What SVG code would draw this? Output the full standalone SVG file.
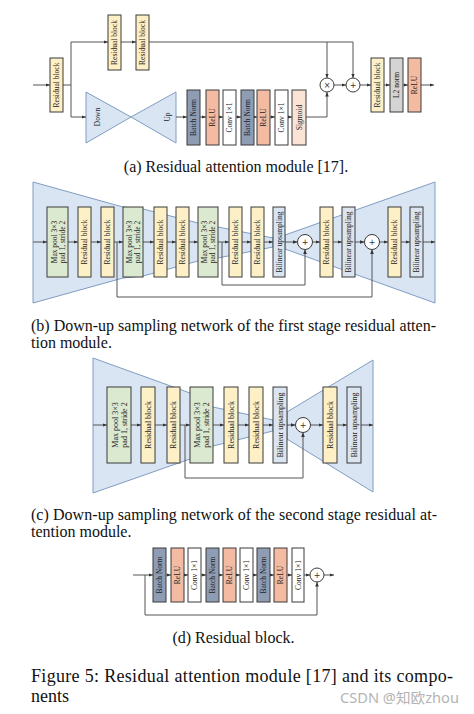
<svg xmlns="http://www.w3.org/2000/svg" width="474" height="714" viewBox="0 0 474 714">
<defs>
<marker id="ah" viewBox="0 0 10 10" refX="10" refY="5" markerWidth="4.5" markerHeight="4.5" markerUnits="userSpaceOnUse" orient="auto"><path d="M0,1 L10,5 L0,9 z" fill="#333"/></marker>
<style>
.rb{fill:#fdf0c6;stroke:#3a3a3a;stroke-width:1}
.bn{fill:#8f9db4;stroke:#3a3a3a;stroke-width:1}
.re{fill:#f3bba1;stroke:#3a3a3a;stroke-width:1}
.cv{fill:#ffffff;stroke:#3a3a3a;stroke-width:1}
.sg{fill:#fbe3d6;stroke:#3a3a3a;stroke-width:1}
.l2{fill:#d4d4d4;stroke:#3a3a3a;stroke-width:1}
.mp{fill:#dce9d1;stroke:#3a3a3a;stroke-width:1}
.bl{fill:#dbe5f1;stroke:#3a3a3a;stroke-width:1}
.fun{fill:#d9e5f2;stroke:#7f9dc3;stroke-width:1}
.ci{fill:#ffffff;stroke:#3a3a3a;stroke-width:1}
.lbl{font-family:"Liberation Serif","Times New Roman",serif;font-size:7.5px;fill:#222;text-anchor:middle;dominant-baseline:central}
.lbc{font-family:"Liberation Serif","Times New Roman",serif;font-size:8px;fill:#222;text-anchor:middle;dominant-baseline:central}
.sym{font-family:"DejaVu Sans",sans-serif;font-size:8px;fill:#333;text-anchor:middle;dominant-baseline:central}
.cap{font-family:"Liberation Serif","Times New Roman",serif;font-size:16px;fill:#111}
.fig{font-family:"Liberation Serif","Times New Roman",serif;font-size:18px;fill:#111}
.cn{fill:none;stroke:#555;stroke-width:1}
.ar{marker-end:url(#ah)}
</style>
</defs>
<rect width="474" height="714" fill="#ffffff"/>

<!-- ============ (a) ============ -->
<g id="a-down"><polygon class="fun" points="86,92 131,117 86,143"/><text class="lbl" transform="translate(97,117) rotate(-90)">Down</text></g>
<g id="a-up"><polygon class="fun" points="131,117 176,92 176,143"/><text class="lbl" transform="translate(167,117) rotate(-90)">Up</text></g>

<g id="a-connectors">
<line class="cn ar" x1="33" y1="85" x2="50" y2="85"/>
<polyline class="cn" points="63,85 71,85"/>
<line class="cn" x1="71" y1="42" x2="71" y2="117"/>
<line class="cn ar" x1="71" y1="42" x2="108" y2="42"/>
<line class="cn ar" x1="121" y1="42" x2="136" y2="42"/>
<polyline class="cn ar" points="149,42 353,42 353,78"/>
<line class="cn ar" x1="327" y1="42" x2="327" y2="78"/>
<line class="cn ar" x1="71" y1="117" x2="86" y2="117"/>
<line class="cn ar" x1="176" y1="117" x2="187" y2="117"/>
<line class="cn ar" x1="200" y1="117" x2="206" y2="117"/>
<line class="cn ar" x1="219" y1="117" x2="223" y2="117"/>
<line class="cn ar" x1="236" y1="117" x2="241" y2="117"/>
<line class="cn ar" x1="254" y1="117" x2="257" y2="117"/>
<line class="cn ar" x1="270" y1="117" x2="275" y2="117"/>
<line class="cn ar" x1="288" y1="117" x2="292" y2="117"/>
<polyline class="cn ar" points="306,117 327,117 327,92"/>
<line class="cn ar" x1="334" y1="85" x2="346" y2="85"/>
<line class="cn ar" x1="360" y1="85" x2="371" y2="85"/>
<line class="cn ar" x1="384" y1="85" x2="390" y2="85"/>
<line class="cn ar" x1="403" y1="85" x2="408" y2="85"/>
<line class="cn ar" x1="421" y1="85" x2="434" y2="85"/>
</g>

<g id="a-rb0"><rect class="rb" x="50" y="58" width="13" height="54"/><text class="lbl" transform="translate(56.5,85) rotate(-90)">Residual block</text></g>
<g id="a-rb1"><rect class="rb" x="108" y="15" width="13" height="55"/><text class="lbl" transform="translate(114.5,42.5) rotate(-90)">Residual block</text></g>
<g id="a-rb2"><rect class="rb" x="136" y="15" width="13" height="55"/><text class="lbl" transform="translate(142.5,42.5) rotate(-90)">Residual block</text></g>
<g id="a-bn1"><rect class="bn" x="187" y="90" width="13" height="55"/><text class="lbl" transform="translate(193.5,117.5) rotate(-90)">Batch Norm</text></g>
<g id="a-relu1"><rect class="re" x="206" y="90" width="13" height="55"/><text class="lbl" transform="translate(212.5,117.5) rotate(-90)">ReLU</text></g>
<g id="a-conv1"><rect class="cv" x="223" y="90" width="13" height="55"/><text class="lbl" transform="translate(229.5,117.5) rotate(-90)">Conv 1×1</text></g>
<g id="a-bn2"><rect class="bn" x="241" y="90" width="13" height="55"/><text class="lbl" transform="translate(247.5,117.5) rotate(-90)">Batch Norm</text></g>
<g id="a-relu2"><rect class="re" x="257" y="90" width="13" height="55"/><text class="lbl" transform="translate(263.5,117.5) rotate(-90)">ReLU</text></g>
<g id="a-conv2"><rect class="cv" x="275" y="90" width="13" height="55"/><text class="lbl" transform="translate(281.5,117.5) rotate(-90)">Conv 1×1</text></g>
<g id="a-sig"><rect class="sg" x="292" y="90" width="14" height="55"/><text class="lbl" transform="translate(299,117.5) rotate(-90)">Sigmoid</text></g>
<g id="a-mul"><circle class="ci" cx="327" cy="85" r="7"/><text class="sym" x="327" y="85">×</text></g>
<g id="a-add"><circle class="ci" cx="353" cy="85" r="7"/><text class="sym" x="353" y="85">+</text></g>
<g id="a-rb3"><rect class="rb" x="371" y="58" width="13" height="54"/><text class="lbl" transform="translate(377.5,85) rotate(-90)">Residual block</text></g>
<g id="a-l2"><rect class="l2" x="390" y="58" width="13" height="54"/><text class="lbl" transform="translate(396.5,85) rotate(-90)">L2 norm</text></g>
<g id="a-relu3"><rect class="re" x="408" y="58" width="13" height="54"/><text class="lbl" transform="translate(414.5,85) rotate(-90)">ReLU</text></g>

<text class="cap" x="236" y="172" text-anchor="middle">(a) Residual attention module [17].</text>

<!-- ============ (b) ============ -->
<g id="b-funnel-down"><polygon class="fun" points="33,182 123,207 143,209 198,223 218,227 273,238 273,247 218,258 198,261 143,276 123,278 33,303"/></g>
<g id="b-funnel-up"><polygon class="fun" points="285,235 435,182 435,303 285,249"/></g>

<g id="b-connectors">
<line class="cn ar" x1="33" y1="242" x2="47" y2="242"/>
<line class="cn ar" x1="68" y1="242" x2="78" y2="242"/>
<line class="cn ar" x1="91" y1="242" x2="101" y2="242"/>
<line class="cn ar" x1="114" y1="242" x2="123" y2="242"/>
<line class="cn ar" x1="143" y1="242" x2="154" y2="242"/>
<line class="cn ar" x1="167" y1="242" x2="176" y2="242"/>
<line class="cn ar" x1="189" y1="242" x2="198" y2="242"/>
<line class="cn ar" x1="218" y1="242" x2="229" y2="242"/>
<line class="cn ar" x1="242" y1="242" x2="251" y2="242"/>
<line class="cn ar" x1="264" y1="242" x2="273" y2="242"/>
<line class="cn ar" x1="285" y1="242" x2="297.5" y2="242"/>
<line class="cn ar" x1="312.5" y1="242" x2="320" y2="242"/>
<line class="cn ar" x1="333" y1="242" x2="342" y2="242"/>
<line class="cn ar" x1="355" y1="242" x2="364.5" y2="242"/>
<line class="cn ar" x1="379.5" y1="242" x2="388" y2="242"/>
<line class="cn ar" x1="401" y1="242" x2="410" y2="242"/>
<line class="cn ar" x1="423" y1="242" x2="435" y2="242"/>
<polyline class="cn ar" points="117,242 117,297 372,297 372,249.5"/>
<polyline class="cn ar" points="222,242 222,285 305,285 305,249.5"/>
</g>

<g id="b-mp1"><rect class="mp" x="47" y="207" width="21" height="70"/><text class="lbl" transform="translate(57.5,242) rotate(-90)"><tspan x="0" y="-4">Max pool 3×3</tspan><tspan x="0" y="4">pad 1, stride 2</tspan></text></g>
<g id="b-rb1"><rect class="rb" x="78" y="207" width="13" height="70"/><text class="lbl" transform="translate(84.5,242) rotate(-90)">Residual block</text></g>
<g id="b-rb2"><rect class="rb" x="101" y="207" width="13" height="70"/><text class="lbl" transform="translate(107.5,242) rotate(-90)">Residual block</text></g>
<g id="b-mp2"><rect class="mp" x="123" y="207" width="20" height="70"/><text class="lbl" transform="translate(133,242) rotate(-90)"><tspan x="0" y="-4">Max pool 3×3</tspan><tspan x="0" y="4">pad 1, stride 2</tspan></text></g>
<g id="b-rb3"><rect class="rb" x="154" y="207" width="13" height="70"/><text class="lbl" transform="translate(160.5,242) rotate(-90)">Residual block</text></g>
<g id="b-rb4"><rect class="rb" x="176" y="207" width="13" height="70"/><text class="lbl" transform="translate(182.5,242) rotate(-90)">Residual block</text></g>
<g id="b-mp3"><rect class="mp" x="198" y="207" width="20" height="70"/><text class="lbl" transform="translate(208,242) rotate(-90)"><tspan x="0" y="-4">Max pool 3×3</tspan><tspan x="0" y="4">pad 1, stride 2</tspan></text></g>
<g id="b-rb5"><rect class="rb" x="229" y="207" width="13" height="70"/><text class="lbl" transform="translate(235.5,242) rotate(-90)">Residual block</text></g>
<g id="b-rb6"><rect class="rb" x="251" y="207" width="13" height="70"/><text class="lbl" transform="translate(257.5,242) rotate(-90)">Residual block</text></g>
<g id="b-bil1"><rect class="bl" x="273" y="207" width="12" height="70"/><text class="lbl" transform="translate(279,242) rotate(-90)">Bilinear upsampling</text></g>
<g id="b-add1"><circle class="ci" cx="305" cy="242" r="7.5"/><text class="sym" x="305" y="242">+</text></g>
<g id="b-rb7"><rect class="rb" x="320" y="207" width="13" height="70"/><text class="lbl" transform="translate(326.5,242) rotate(-90)">Residual block</text></g>
<g id="b-bil2"><rect class="bl" x="342" y="207" width="13" height="70"/><text class="lbl" transform="translate(348.5,242) rotate(-90)">Bilinear upsampling</text></g>
<g id="b-add2"><circle class="ci" cx="372" cy="242" r="7.5"/><text class="sym" x="372" y="242">+</text></g>
<g id="b-rb8"><rect class="rb" x="388" y="207" width="13" height="70"/><text class="lbl" transform="translate(394.5,242) rotate(-90)">Residual block</text></g>
<g id="b-bil3"><rect class="bl" x="410" y="207" width="13" height="70"/><text class="lbl" transform="translate(416.5,242) rotate(-90)">Bilinear upsampling</text></g>

<text class="cap" x="31" y="331" textLength="405" lengthAdjust="spacing">(b) Down-up sampling network of the first stage residual atten-</text>
<text class="cap" x="31" y="348">tion module.</text>

<!-- ============ (c) ============ -->
<g id="c-funnel-down"><polygon class="fun" points="93,358 190,393 213,407 273,420 273,431 213,446 190,459 93,493"/></g>
<g id="c-funnel-up"><polygon class="fun" points="287,412 373,360 373,492 287,439"/></g>

<g id="c-connectors">
<line class="cn ar" x1="93" y1="425" x2="107" y2="425"/>
<line class="cn ar" x1="131" y1="425" x2="141" y2="425"/>
<line class="cn ar" x1="155" y1="425" x2="167" y2="425"/>
<line class="cn ar" x1="180" y1="425" x2="190" y2="425"/>
<line class="cn ar" x1="213" y1="425" x2="224" y2="425"/>
<line class="cn ar" x1="238" y1="425" x2="249" y2="425"/>
<line class="cn ar" x1="263" y1="425" x2="273" y2="425"/>
<line class="cn ar" x1="287" y1="425" x2="295.5" y2="425"/>
<line class="cn ar" x1="310.5" y1="425" x2="323" y2="425"/>
<line class="cn ar" x1="337" y1="425" x2="347" y2="425"/>
<line class="cn ar" x1="361" y1="425" x2="373" y2="425"/>
<polyline class="cn ar" points="185,425 185,478 303,478 303,432.5"/>
</g>

<g id="c-mp1"><rect class="mp" x="107" y="387" width="24" height="76"/><text class="lbc" transform="translate(119,425) rotate(-90)"><tspan x="0" y="-4.5">Max pool 3×3</tspan><tspan x="0" y="4.5">pad 1, stride 2</tspan></text></g>
<g id="c-rb1"><rect class="rb" x="141" y="387" width="14" height="76"/><text class="lbc" transform="translate(148,425) rotate(-90)">Residual block</text></g>
<g id="c-rb2"><rect class="rb" x="167" y="387" width="13" height="76"/><text class="lbc" transform="translate(173.5,425) rotate(-90)">Residual block</text></g>
<g id="c-mp2"><rect class="mp" x="190" y="387" width="23" height="76"/><text class="lbc" transform="translate(201.5,425) rotate(-90)"><tspan x="0" y="-4.5">Max pool 3×3</tspan><tspan x="0" y="4.5">pad 1, stride 2</tspan></text></g>
<g id="c-rb3"><rect class="rb" x="224" y="387" width="14" height="76"/><text class="lbc" transform="translate(231,425) rotate(-90)">Residual block</text></g>
<g id="c-rb4"><rect class="rb" x="249" y="387" width="14" height="76"/><text class="lbc" transform="translate(256,425) rotate(-90)">Residual block</text></g>
<g id="c-bil1"><rect class="bl" x="273" y="387" width="14" height="76"/><text class="lbc" transform="translate(280,425) rotate(-90)">Bilinear upsampling</text></g>
<g id="c-add"><circle class="ci" cx="303" cy="425" r="7.5"/><text class="sym" x="303" y="425">+</text></g>
<g id="c-rb5"><rect class="rb" x="323" y="387" width="14" height="76"/><text class="lbc" transform="translate(330,425) rotate(-90)">Residual block</text></g>
<g id="c-bil2"><rect class="bl" x="347" y="387" width="14" height="76"/><text class="lbc" transform="translate(354,425) rotate(-90)">Bilinear upsampling</text></g>

<text class="cap" x="31" y="520" textLength="406" lengthAdjust="spacing">(c) Down-up sampling network of the second stage residual at-</text>
<text class="cap" x="31" y="537">tention module.</text>

<!-- ============ (d) ============ -->
<g id="d-connectors">
<line class="cn ar" x1="133" y1="575" x2="153" y2="575"/>
<line class="cn ar" x1="166" y1="575" x2="171" y2="575"/>
<line class="cn ar" x1="184" y1="575" x2="188" y2="575"/>
<line class="cn ar" x1="201" y1="575" x2="206" y2="575"/>
<line class="cn ar" x1="219" y1="575" x2="223" y2="575"/>
<line class="cn ar" x1="236" y1="575" x2="240" y2="575"/>
<line class="cn ar" x1="253" y1="575" x2="257" y2="575"/>
<line class="cn ar" x1="270" y1="575" x2="274" y2="575"/>
<line class="cn ar" x1="287" y1="575" x2="292" y2="575"/>
<line class="cn ar" x1="304" y1="575" x2="310" y2="575"/>
<line class="cn ar" x1="324" y1="575" x2="334" y2="575"/>
<polyline class="cn ar" points="145,575 145,615 317,615 317,582"/>
</g>

<g id="d-bn1"><rect class="bn" x="153" y="548" width="13" height="54"/><text class="lbl" transform="translate(159.5,575) rotate(-90)">Batch Norm</text></g>
<g id="d-relu1"><rect class="re" x="171" y="548" width="13" height="54"/><text class="lbl" transform="translate(177.5,575) rotate(-90)">ReLU</text></g>
<g id="d-conv1"><rect class="cv" x="188" y="548" width="13" height="54"/><text class="lbl" transform="translate(194.5,575) rotate(-90)">Conv 1×1</text></g>
<g id="d-bn2"><rect class="bn" x="206" y="548" width="13" height="54"/><text class="lbl" transform="translate(212.5,575) rotate(-90)">Batch Norm</text></g>
<g id="d-relu2"><rect class="re" x="223" y="548" width="13" height="54"/><text class="lbl" transform="translate(229.5,575) rotate(-90)">ReLU</text></g>
<g id="d-conv2"><rect class="cv" x="240" y="548" width="13" height="54"/><text class="lbl" transform="translate(246.5,575) rotate(-90)">Conv 1×1</text></g>
<g id="d-bn3"><rect class="bn" x="257" y="548" width="13" height="54"/><text class="lbl" transform="translate(263.5,575) rotate(-90)">Batch Norm</text></g>
<g id="d-relu3"><rect class="re" x="274" y="548" width="13" height="54"/><text class="lbl" transform="translate(280.5,575) rotate(-90)">ReLU</text></g>
<g id="d-conv3"><rect class="cv" x="292" y="548" width="12" height="54"/><text class="lbl" transform="translate(298,575) rotate(-90)">Conv 1×1</text></g>
<g id="d-add"><circle class="ci" cx="317" cy="575" r="7"/><text class="sym" x="317" y="575">+</text></g>

<text class="cap" x="233.5" y="643" text-anchor="middle">(d) Residual block.</text>

<text class="fig" x="31" y="682" textLength="422" lengthAdjust="spacing">Figure 5: Residual attention module [17] and its compo-</text>
<text class="fig" x="31" y="702">nents</text>
<text x="340" y="703" textLength="119" lengthAdjust="spacingAndGlyphs" style="font-family:'Noto Sans','Noto Sans CJK SC',sans-serif;font-size:14px;fill:#b4b4b4">CSDN @知欧zhou</text>
</svg>
